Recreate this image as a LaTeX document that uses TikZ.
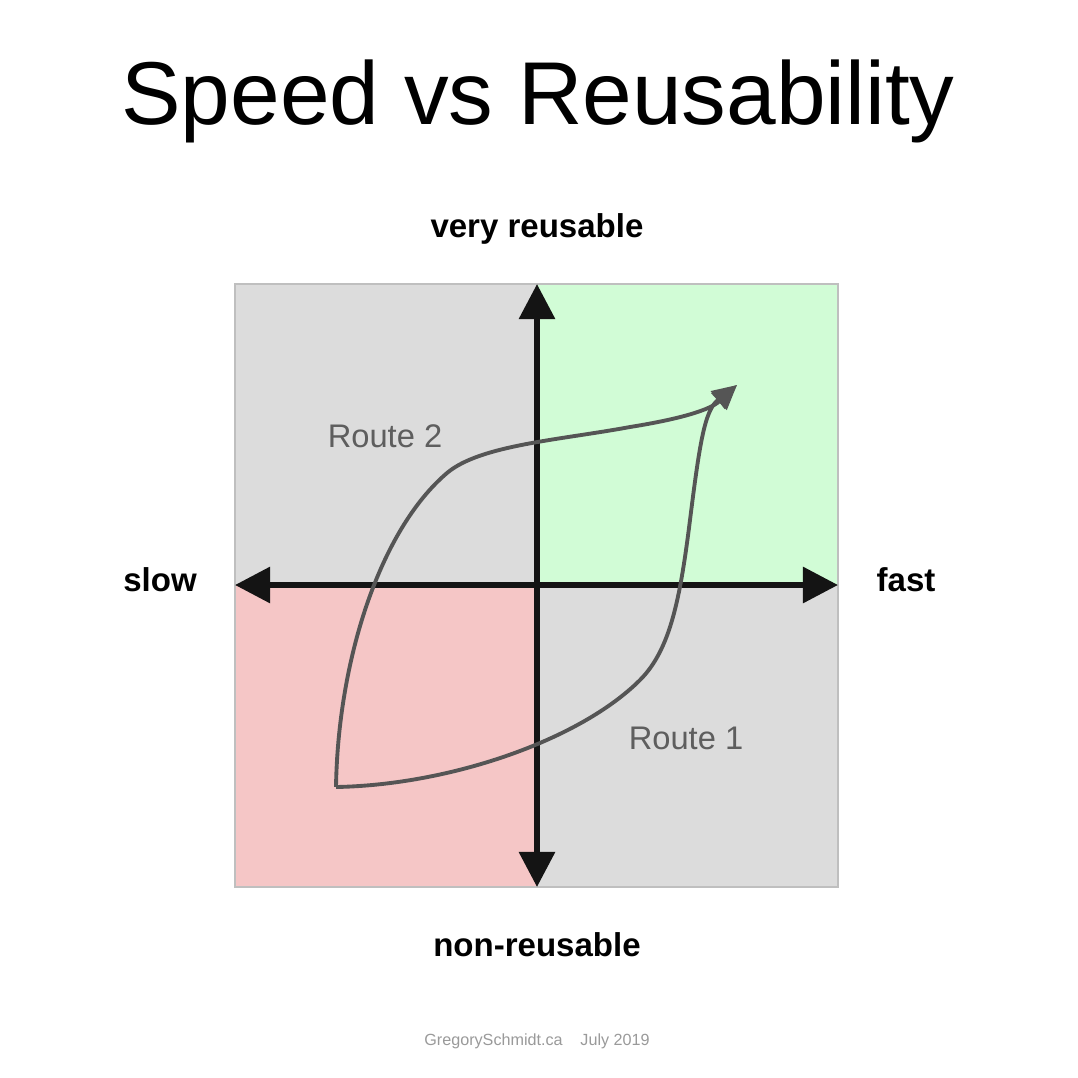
\documentclass[tikz,border=0pt]{standalone}
\usepackage{fontspec}
\setmainfont{Liberation Sans}
\usetikzlibrary{arrows.meta,positioning}
\definecolor{QuadGray}{HTML}{DCDCDC}
\definecolor{QuadGreen}{HTML}{D1FCD6}
\definecolor{QuadPink}{HTML}{F5C6C6}
\definecolor{RouteGray}{HTML}{555555}
\definecolor{LabelGray}{HTML}{5E5E5E}
\definecolor{FootGray}{HTML}{9A9A9A}

\begin{document}
\begin{tikzpicture}[x=.02cm,y=-.02cm,
  axis/.style={line width=3.4pt,black!92,
    {Triangle[length=20pt,width=20pt]}-{Triangle[length=20pt,width=20pt]}},
  route/.style={line width=2.2pt,RouteGray,line join=round,
    -{Triangle[length=14pt,width=12.5pt]}},
  axislabel/.style={font=\fontsize{18.8}{22}\selectfont\bfseries,inner sep=0,anchor=base},
  routelabel/.style={font=\fontsize{18.6}{22}\selectfont,text=LabelGray,inner sep=0,anchor=base}]
  \useasboundingbox[fill=white] (0,0) rectangle (1078,1078);
  % quadrants
  \fill[QuadGray]  (235,284) rectangle (537,585);
  \fill[QuadGreen] (537,284) rectangle (838,585);
  \fill[QuadPink]  (235,585) rectangle (537,887);
  \fill[QuadGray]  (537,585) rectangle (838,887);
  \draw[black!25,line width=.6pt] (235,284) rectangle (838,887);
  % axes
  \coordinate (west) at (235,585);
  \coordinate (east) at (838,585);
  \coordinate (north) at (537,284);
  \coordinate (south) at (537,887);
  \draw[axis] (west) -- (east);
  \draw[axis] (south) -- (north);
  % routes
  \coordinate (start) at (336,787);
  \coordinate (goal) at (737,385);
  \draw[route] (start) .. controls (450,785) and (580,740) .. (640,680)
    .. controls (670,650) and (680,600) .. (690,520)
    .. controls (700,440) and (705,410) .. (goal);
  \draw[route] (start) .. controls (338,660) and (380,530) .. (447,473)
    .. controls (480,445) and (560,440) .. (630,427)
    .. controls (680,419) and (710,410) .. (goal);
  % labels
  \node[font=\fontsize{50.8}{60}\selectfont,inner sep=0,anchor=base] (title) at (538,125) {Speed vs Reusability};
  \node[axislabel] (up) at (537,237) {very reusable};
  \node[axislabel] (down) at (537,956) {non-reusable};
  \node[axislabel] (slow) at (160,591) {slow};
  \node[axislabel] (fast) at (906,591) {fast};
  \node[routelabel] (route2) at (385,447) {Route 2};
  \node[routelabel] (route1) at (686,749) {Route 1};
  \node[font=\fontsize{9.2}{11}\selectfont,text=FootGray] (foot) at (537,1041)
    {GregorySchmidt.ca\hspace{1.1em}July 2019};
\end{tikzpicture}
\end{document}
